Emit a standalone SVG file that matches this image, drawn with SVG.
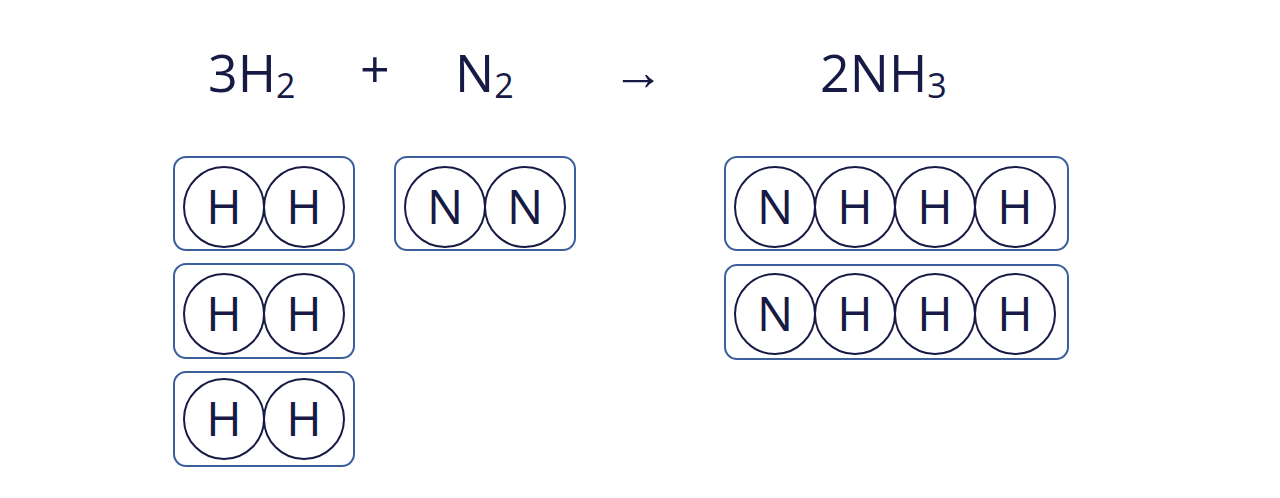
<svg xmlns="http://www.w3.org/2000/svg" width="1280" height="498" viewBox="0 0 1280 498">
<style>
.box{fill:none;stroke:#3a5f9c;stroke-width:2}
.at{fill:none;stroke:#161a45;stroke-width:2}
text{font-family:"Open Sans","Noto Sans",sans-serif;fill:#161a45}
.a{font-size:48px;text-anchor:middle}
.t{font-size:52px}
.s{font-size:34px}
</style>
<rect width="1280" height="498" fill="#fff"/>
<g id="equation">
<text class="t" x="208" y="92">3H<tspan class="s" dy="6">2</tspan></text>
<text class="t" x="360" y="88">+</text>
<text class="t" x="455" y="92">N<tspan class="s" dy="6">2</tspan></text>
<text class="t" x="612" y="90">→</text>
<text class="t" x="820" y="92">2NH<tspan class="s" dy="6">3</tspan></text>
</g>
<g id="h2-1"><rect class="box" x="174" y="157" width="180" height="93" rx="12"/>
<circle class="at" cx="224" cy="207" r="40"/><circle class="at" cx="304" cy="207" r="40"/>
<text class="a" x="224" y="224">H</text><text class="a" x="304" y="224">H</text></g>
<g id="h2-2"><rect class="box" x="174" y="264" width="180" height="94" rx="12"/>
<circle class="at" cx="224" cy="314" r="40"/><circle class="at" cx="304" cy="314" r="40"/>
<text class="a" x="224" y="331">H</text><text class="a" x="304" y="331">H</text></g>
<g id="h2-3"><rect class="box" x="174" y="372" width="180" height="94" rx="12"/>
<circle class="at" cx="224" cy="419" r="40"/><circle class="at" cx="304" cy="419" r="40"/>
<text class="a" x="224" y="436">H</text><text class="a" x="304" y="436">H</text></g>
<g id="n2"><rect class="box" x="395" y="157" width="180" height="93" rx="12"/>
<circle class="at" cx="445" cy="207" r="40"/><circle class="at" cx="525" cy="207" r="40"/>
<text class="a" x="445" y="224">N</text><text class="a" x="525" y="224">N</text></g>
<g id="nh3-1"><rect class="box" x="725" y="157" width="343" height="93" rx="12"/>
<circle class="at" cx="775" cy="207" r="40"/><circle class="at" cx="855" cy="207" r="40"/><circle class="at" cx="935" cy="207" r="40"/><circle class="at" cx="1015" cy="207" r="40"/>
<text class="a" x="775" y="224">N</text><text class="a" x="855" y="224">H</text><text class="a" x="935" y="224">H</text><text class="a" x="1015" y="224">H</text></g>
<g id="nh3-2"><rect class="box" x="725" y="265" width="343" height="94" rx="12"/>
<circle class="at" cx="775" cy="314" r="40"/><circle class="at" cx="855" cy="314" r="40"/><circle class="at" cx="935" cy="314" r="40"/><circle class="at" cx="1015" cy="314" r="40"/>
<text class="a" x="775" y="331">N</text><text class="a" x="855" y="331">H</text><text class="a" x="935" y="331">H</text><text class="a" x="1015" y="331">H</text></g>
<g id="connectors"/>
</svg>
